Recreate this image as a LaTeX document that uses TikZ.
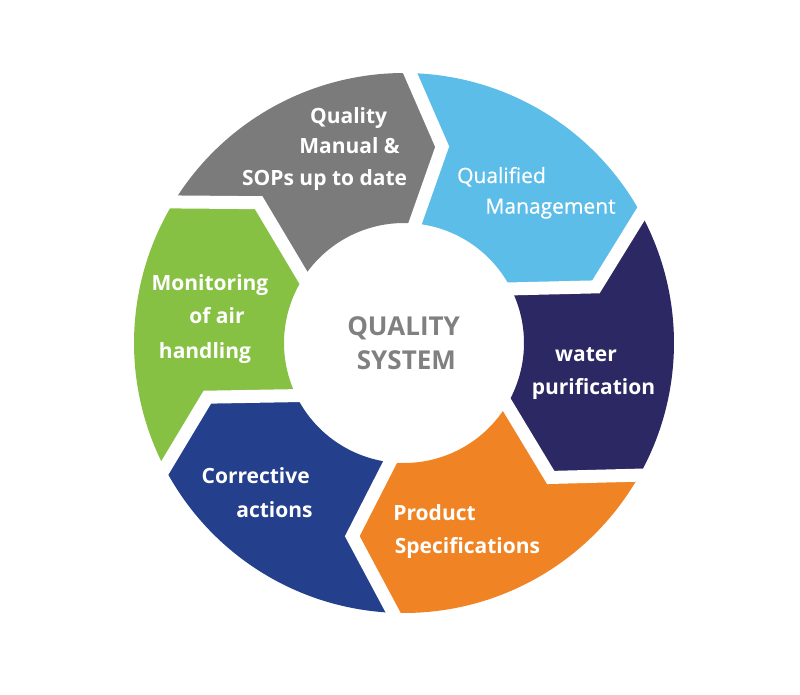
\documentclass[tikz,border=0pt]{standalone}
\usepackage{fontspec}
\setmainfont{Open Sans}
\newfontfamily\semifont{Open Sans}[FakeBold=0.6]
\usetikzlibrary{calc}
\definecolor{cgray}{HTML}{7B7B7B}
\definecolor{clblue}{HTML}{5DBDE9}
\definecolor{cnavy}{HTML}{2C2864}
\definecolor{corange}{HTML}{F08424}
\definecolor{cblue}{HTML}{243F8C}
\definecolor{cgreen}{HTML}{86C144}
\definecolor{ctext}{HTML}{808080}
\begin{document}
\begin{tikzpicture}[x=1pt,y=1pt,
  lbl/.style={text=white, font=\fontsize{21}{25}\selectfont\bfseries, anchor=base, inner sep=0pt},
  lblthin/.style={text=white, font=\fontsize{21}{25}\selectfont\semifont, anchor=base, inner sep=0pt},
  ctr/.style={text=ctext, font=\fontsize{26}{30}\selectfont\bfseries, anchor=base, inner sep=0pt},
  gapline/.style={draw=white, line width=13pt, miter limit=10, line join=miter},
]
\useasboundingbox (-404,-351) rectangle (396,343);
\def\Ro{270pt}\def\Ri{120pt}
% boundaries: outer, bend, inner
\coordinate (o1) at (88.7:\Ro);   \coordinate (m1) at (79:200pt);     \coordinate (i1) at (84.7:\Ri);
\coordinate (o2) at (28.6:\Ro);   \coordinate (m2) at (16.3:200pt);   \coordinate (i2) at (26.8:\Ri);
\coordinate (o3) at (-29.3:\Ro);  \coordinate (m3) at (-42.5:199pt);  \coordinate (i3) at (-31:\Ri);
\coordinate (o4) at (-92.3:\Ro);  \coordinate (m4) at (-105:200pt);   \coordinate (i4) at (-96.7:\Ri);
\coordinate (o5) at (-152.4:\Ro); \coordinate (m5) at (-164.6:204pt); \coordinate (i5) at (-154:\Ri);
\coordinate (o6) at (148.5:\Ro);  \coordinate (m6) at (136:202pt);    \coordinate (i6) at (147:\Ri);
% segments
\fill[cgray]   (o6) arc[start angle=148.5, end angle=88.7, radius=\Ro] -- (m1) -- (i1)
               arc[start angle=84.7, end angle=147, radius=\Ri] -- (m6) -- cycle;
\fill[clblue]  (o1) arc[start angle=88.7, end angle=28.6, radius=\Ro] -- (m2) -- (i2)
               arc[start angle=26.8, end angle=84.7, radius=\Ri] -- (m1) -- cycle;
\fill[cnavy]   (o2) arc[start angle=28.6, end angle=-29.3, radius=\Ro] -- (m3) -- (i3)
               arc[start angle=-31, end angle=26.8, radius=\Ri] -- (m2) -- cycle;
\fill[corange] (o3) arc[start angle=-29.3, end angle=-92.3, radius=\Ro] -- (m4) -- (i4)
               arc[start angle=-96.7, end angle=-31, radius=\Ri] -- (m3) -- cycle;
\fill[cblue]   (o4) arc[start angle=-92.3, end angle=-152.4, radius=\Ro] -- (m5) -- (i5)
               arc[start angle=-154, end angle=-96.7, radius=\Ri] -- (m4) -- cycle;
\fill[cgreen]  (o5) arc[start angle=207.6, end angle=148.5, radius=\Ro] -- (m6) -- (i6)
               arc[start angle=147, end angle=206, radius=\Ri] -- (m5) -- cycle;
% white gaps
\foreach \k in {1,...,6}{
  \draw[gapline] ($(m\k)!1.2!(o\k)$) -- (m\k) -- ($(m\k)!1.4!(i\k)$);
}
% labels
\node[lbl] (g1) at (-55.4,219.4) {Quality};
\node[lbl] (g2) at (-54.5,189.4) {Manual \&};
\node[lbl] (g3) at (-79.4,157.3) {SOPs up to date};
\node[lblthin] (b1) at (97.5,160) {Qualified};
\node[lblthin] (b2) at (146.5,129.4) {Management};
\node[lbl] (n1) at (182,-18) {water};
\node[lbl] (n2) at (189.5,-51) {purification};
\node[lbl] (p1) at (30.6,-177.7) {Product};
\node[lbl] (p2) at (63.5,-210) {Specifications};
\node[lbl] (c1) at (-148.3,-140) {Corrective};
\node[lbl] (c2) at (-129.5,-174) {actions};
\node[lbl] (m1t) at (-194,52.6) {Monitoring};
\node[lbl] (m2t) at (-187,19.4) {of air};
\node[lbl] (m3t) at (-199,-15) {handling};
\node[ctr] (q1) at (-0.4,8) {QUALITY};
\node[ctr] (q2) at (2.4,-26) {SYSTEM};
\end{tikzpicture}
\end{document}
